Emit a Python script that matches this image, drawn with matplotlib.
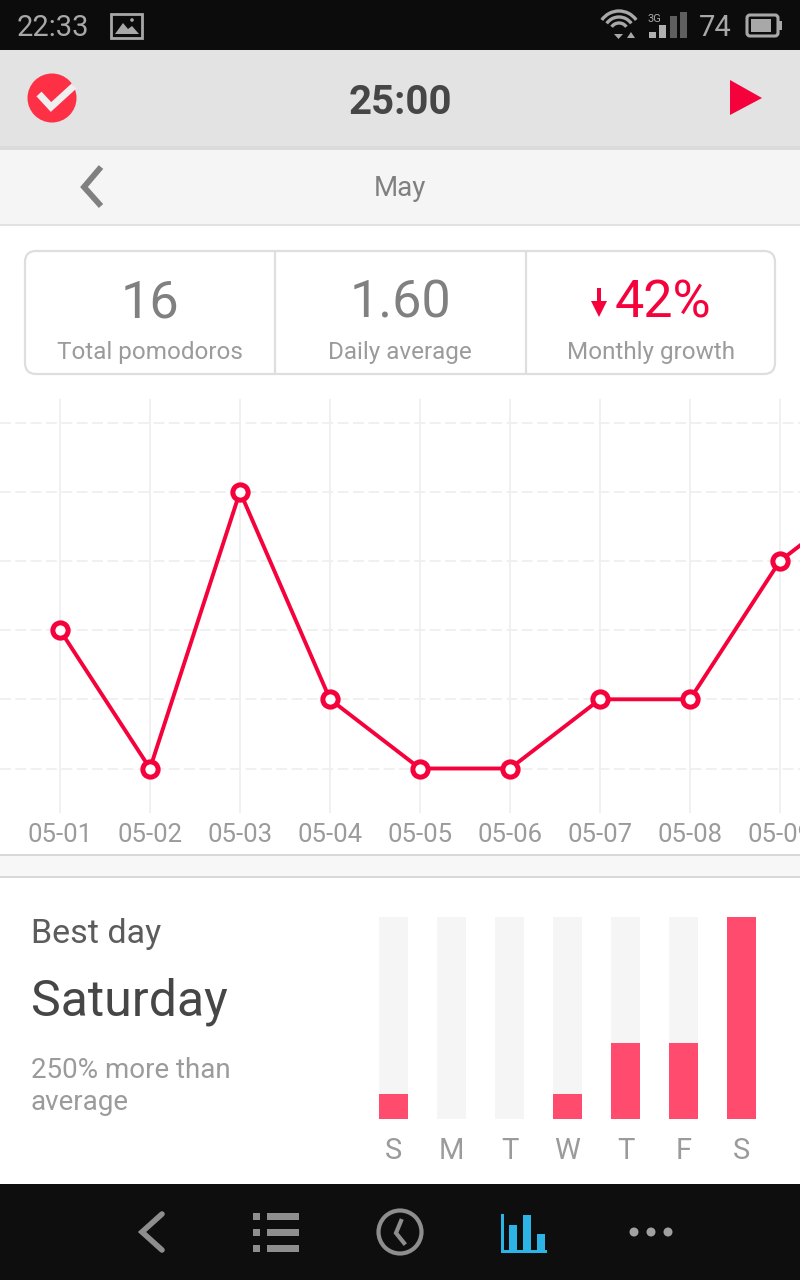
import matplotlib
matplotlib.use("Agg")
import matplotlib.pyplot as plt
from matplotlib.patches import Rectangle, Circle, Polygon, FancyBboxPatch, Arc

plt.rcParams['font.family'] = ['Roboto', 'DejaVu Sans']

# chart data
dates = ['05-01', '05-02', '05-03', '05-04', '05-05', '05-06', '05-07', '05-08', '05-09', '05-10']
pomodoros = [2, 0, 4, 1, 0, 0, 1, 1, 3, 4]
y_levels = [0, 1, 2, 3, 4, 5]
weekdays = ['S', 'M', 'T', 'W', 'T', 'F', 'S']
day_counts = [1, 0, 0, 1, 3, 3, 8]
stat_values = ['16', '1.60']
stat_labels = ['Total pomodoros', 'Daily average', 'Monthly growth']

RED = '#f5023c'
PINK = '#ff4b6e'
GREY = '#9b9b9b'
W, H = 800, 1280

fig = plt.figure(figsize=(8, 12.8), dpi=100, facecolor='white')
ui = fig.add_axes([0, 0, 1, 1])
ui.set_xlim(0, W)
ui.set_ylim(H, 0)
ui.axis('off')


def box(x0, y0, x1, y1, color):
    ui.add_patch(Rectangle((x0, y0), x1 - x0, y1 - y0, fc=color, ec='none'))


def hline(x0, x1, y, color, lw=2):
    ui.plot([x0, x1], [y, y], color=color, lw=lw * 0.72, solid_capstyle='butt')


def px_axes(x0, y0, x1, y1):
    return fig.add_axes([x0 / W, 1 - y1 / H, (x1 - x0) / W, (y1 - y0) / H])


# status bar
box(0, 0, 800, 50, '#0c0c0c')
ui.text(17, 28, '22:33', color='#a8a8a8', fontsize=21, va='center')
ui.add_patch(Rectangle((111, 14), 31, 24, fc='none', ec='#a8a8a8', lw=2))
ui.add_patch(Polygon([(115, 34), (123, 23), (128, 29), (132, 26), (139, 34)], fc='#a8a8a8', ec='none'))
ui.add_patch(Circle((132, 20), 1.8, fc='#a8a8a8', ec='none'))
for r in [7, 13, 19]:
    ui.add_patch(Arc((619, 32), 2 * r + 4, 2 * r + 4, theta1=215, theta2=325, color='#a8a8a8', lw=2.4))
ui.add_patch(Polygon([(614, 34), (623, 34), (618.5, 39)], fc='#a8a8a8', ec='none'))
ui.add_patch(Polygon([(631, 32), (635, 38), (627, 38)], fc='#a8a8a8', ec='none'))
ui.text(654, 19, '3G', color='#a8a8a8', fontsize=8, va='center', ha='center')
for i, (h, c) in enumerate([(6, '#b0b0b0'), (13, '#b0b0b0'), (22, '#5f5f5f'), (26, '#5f5f5f')]):
    box(649 + i * 10.3, 38 - h, 656 + i * 10.3, 38, c)
ui.text(715, 28, '74', color='#a8a8a8', fontsize=21, va='center', ha='center')
ui.add_patch(FancyBboxPatch((747, 15), 31, 21, boxstyle='round,pad=0,rounding_size=3', fc='none', ec='#a8a8a8', lw=2.2))
box(751, 19, 771, 32, '#a8a8a8')
box(779, 21, 782, 30, '#a8a8a8')

# header
box(0, 50, 800, 147, '#e3e3e3')
box(0, 146, 800, 150, '#dbdbdb')
ui.add_patch(Circle((52, 98), 24.5, fc='#fe3045', ec='none'))
ui.plot([39, 51, 74], [94, 107, 86], color='#efefef', lw=5, solid_joinstyle='miter', solid_capstyle='butt')
ui.text(400, 103, '25:00', color='#464646', fontsize=29, fontweight='bold', ha='center', va='center')
ui.add_patch(Polygon([(730, 80), (762, 98), (730, 115)], fc=RED, ec='none'))

# month row
box(0, 150, 800, 224, '#f5f5f5')
box(0, 224, 800, 226, '#e2e2e2')
ui.plot([101, 84, 101], [167, 187, 206], color='#808080', lw=4.2, solid_joinstyle='miter', solid_capstyle='butt')
ui.text(400, 189, 'May', color='#808080', fontsize=20, ha='center', va='center')

# stats box
ui.add_patch(FancyBboxPatch((25, 251), 750, 123, boxstyle='round,pad=0,rounding_size=11', fc='white', ec='#dedede', lw=1.6))
for x in [275, 526]:
    ui.plot([x, x], [252, 373], color='#dedede', lw=1.6)
ui.text(150, 303, stat_values[0], color='#808080', fontsize=37.5, ha='center', va='center')
ui.text(401, 303, stat_values[1], color='#808080', fontsize=37.5, ha='center', va='center')
ui.text(663, 303, '42%', color=RED, fontsize=37.5, ha='center', va='center')
box(597, 288, 601, 304, RED)
ui.add_patch(Polygon([(591, 301), (607, 301), (599, 317)], fc=RED, ec='none'))
for x, s in zip([149.5, 400, 651], stat_labels):
    ui.text(x, 352, s, color=GREY, fontsize=17.5, ha='center', va='center')

# line chart, one date every 90 px starting at x=60
chart = px_axes(0, 399, 800, 813)
chart.patch.set_alpha(0)
chart.set_xlim(-60 / 90, 740 / 90)
chart.set_ylim(-44.5 / 69.2, 369.5 / 69.2)
for s in chart.spines.values():
    s.set_visible(False)
chart.set_yticks(y_levels)
chart.set_yticklabels([])
chart.set_xticks(range(len(dates) - 1))
chart.set_xticklabels(dates[:-1], color=GREY, fontsize=18.5)
chart.tick_params(length=0, pad=7.5)
for y in y_levels:
    chart.axhline(y, color='#efefef', lw=1.3, dashes=(6, 2.5), zorder=1)
for x in range(len(dates) - 1):
    chart.axvline(x, color='#efefef', lw=1.3, zorder=1)
chart.plot(range(len(dates)), pomodoros, color=RED, lw=2.8, marker='o', ms=11,
           mfc='white', mec=RED, mew=3.6, zorder=3)

# separators
box(0, 855, 800, 876, '#f7f7f7')
hline(0, 800, 854.5, '#d8d8d8')
hline(0, 800, 876.5, '#d8d8d8')

# best day
ui.text(31, 934, 'Best day', color='#5c5c5c', fontsize=24.5, va='center')
ui.text(31, 1002, 'Saturday', color='#464646', fontsize=36, va='center')
ui.text(31, 1070, '250% more than', color=GREY, fontsize=20, va='center')
ui.text(31, 1103, 'average', color=GREY, fontsize=20, va='center')

# weekday bars, 58 px apart
bars = px_axes(364.5, 917, 770.5, 1119)
bars.patch.set_alpha(0)
bars.set_xlim(-29 / 58, 377 / 58)
bars.set_ylim(0, max(day_counts))
for s in bars.spines.values():
    s.set_visible(False)
bars.bar(range(len(weekdays)), [max(day_counts)] * len(weekdays), width=0.5, color='#f5f5f5')
bars.bar(range(len(weekdays)), day_counts, width=0.5, color=PINK)
bars.set_yticks([])
bars.set_xticks(range(len(weekdays)))
bars.set_xticklabels(weekdays, color=GREY, fontsize=21)
bars.tick_params(length=0, pad=13)

# bottom nav
box(0, 1184, 800, 1280, '#0e0e0e')
NAV = '#8e8e8e'
ui.plot([162, 142, 162], [1214, 1232, 1250], color=NAV, lw=4, solid_capstyle='round', solid_joinstyle='miter')
for y in [1216, 1232, 1248]:
    box(253, y - 3.5, 260, y + 3.5, NAV)
    box(267, y - 3.5, 299, y + 3.5, NAV)
ui.add_patch(Circle((400, 1232), 21.5, fc='none', ec=NAV, lw=3))
ui.plot([401, 396, 404], [1221, 1233, 1243], color=NAV, lw=3, solid_joinstyle='miter')
BLUE = '#2db4e6'
box(501, 1214, 504, 1253, BLUE)
box(501, 1250, 547, 1253, BLUE)
box(509, 1225, 517, 1251, BLUE)
box(523, 1215, 531, 1251, BLUE)
box(537, 1234, 545, 1251, BLUE)
for x in [634, 651, 668]:
    ui.add_patch(Circle((x, 1232), 4.5, fc='#a0a0a0', ec='none'))

fig.savefig('out.png', dpi=100, facecolor='white')
